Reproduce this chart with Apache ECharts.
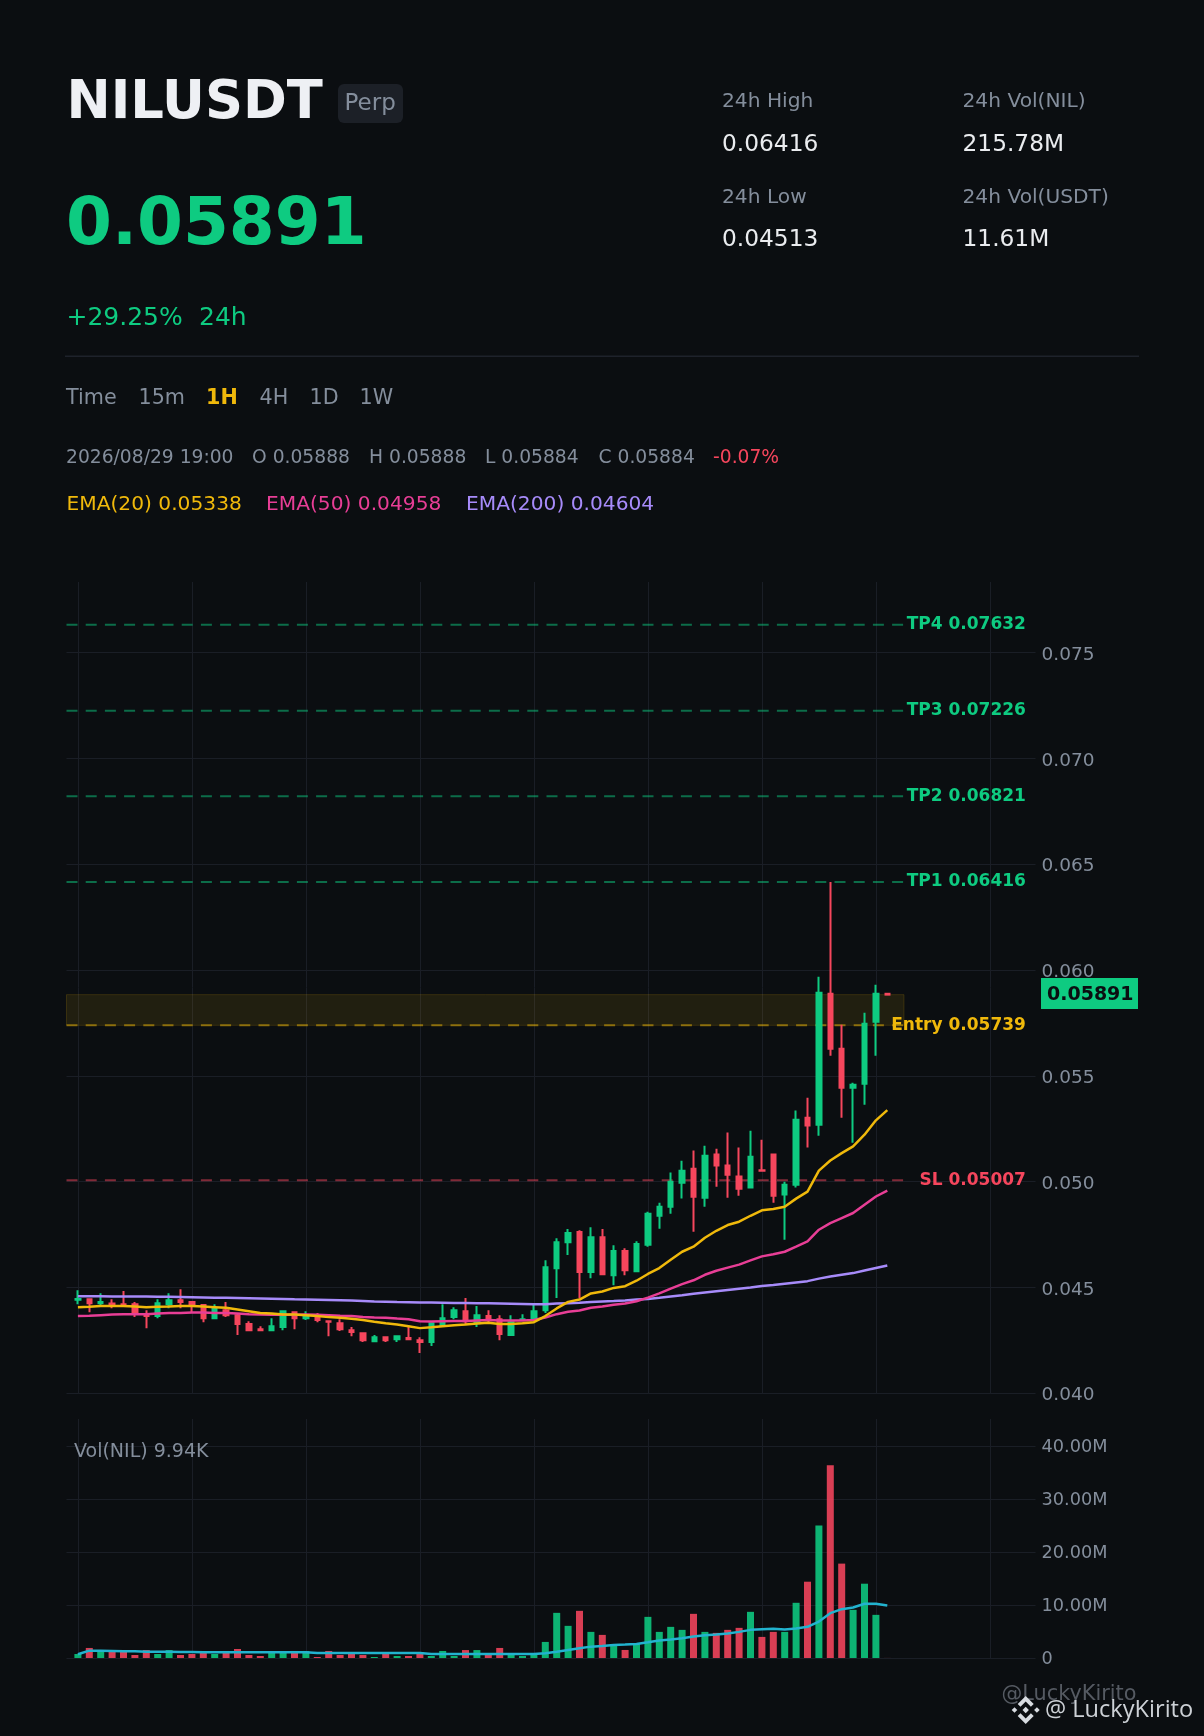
<!DOCTYPE html>
<html><head><meta charset="utf-8">
<style>html,body{margin:0;padding:0;background:#0b0e11}#c{width:1204px;height:1736px}</style>
<script src="https://cdn.jsdelivr.net/npm/echarts@6/dist/echarts.min.js"></script>
</head><body><div id="c"></div>
<script>
const opens=[.04442,.04445,.04426,.04424,.04421,.04421,.04374,.04365,.04421,.0444,.04431,.04417,.04355,.04393,.04369,.04327,.04303,.04298,.04313,.04383,.04355,.04369,.04341,.04331,.04298,.04284,.04246,.04265,.04256,.04261,.04251,.04242,.04322,.0436,.04388,.04331,.04365,.0435,.04275,.04346,.04349,.04393,.04591,.04714,.04762,.04573,.04738,.04558,.04672,.04577,.04702,.04839,.04882,.04995,.05061,.04924,.05128,.05076,.05024,.04972,.05054,.05128,.04939,.04986,.05302,.05269,.05888,.05628,.05444,.05463,.05756,.05888];
const highs=[.04487,.04445,.04473,.04445,.04483,.04431,.04393,.04445,.04473,.04492,.04431,.04417,.04421,.04431,.04379,.04341,.04317,.04355,.04388,.04383,.04388,.04379,.04341,.0435,.04313,.04289,.04275,.04265,.0427,.04313,.04265,.04331,.04421,.04407,.0445,.04412,.04393,.04369,.04369,.04374,.04417,.04629,.04733,.04776,.04771,.04785,.04776,.047,.04686,.04719,.04858,.04901,.05043,.05099,.05147,.0517,.05156,.05232,.05161,.05241,.05198,.05132,.05,.05336,.05397,.05969,.06416,.05742,.05468,.05798,.05931,.05888];
const lows=[.04421,.04383,.04417,.04402,.04412,.0436,.04308,.04355,.04402,.04402,.04383,.04336,.04355,.0436,.04275,.04294,.04294,.04298,.04298,.04303,.04346,.04336,.0427,.04294,.0427,.04242,.04246,.04242,.04242,.04251,.0419,.04223,.04317,.0435,.04326,.04313,.04336,.04251,.04275,.04346,.04346,.04379,.0445,.04653,.0445,.04544,.04558,.04511,.04558,.04577,.04693,.04778,.04849,.0492,.04764,.04882,.04976,.04924,.04934,.04972,.05052,.04901,.04726,.04972,.05161,.05217,.05595,.05302,.05184,.05364,.05595,.05884];
const closes=[.04446,.04426,.04431,.04421,.04417,.04379,.04365,.04426,.0444,.04431,.04412,.04355,.04398,.04369,.04327,.04298,.04298,.04317,.04388,.04355,.04369,.04346,.04338,.04303,.0429,.04251,.04265,.04251,.0427,.04256,.04242,.04331,.04355,.04393,.04341,.04369,.04355,.0428,.04336,.0435,.04388,.04596,.04714,.04757,.04573,.04738,.04563,.04672,.04582,.04705,.04849,.04882,.05,.05052,.04929,.05123,.05076,.05033,.04967,.05118,.05052,.04934,.04986,.05293,.05265,.05893,.05628,.05444,.05458,.05746,.05888,.05884];
const ema20=[.04407,.04409,.04412,.04413,.04413,.0441,.04407,.04409,.0441,.04412,.04412,.0441,.04407,.04404,.04396,.04388,.0438,.04377,.04372,.04372,.04369,.04365,.0436,.04357,.04352,.04346,.04338,.04331,.04325,.04317,.04308,.04312,.04317,.04322,.04325,.0433,.04333,.04327,.04328,.04331,.04336,.04365,.04401,.04432,.04443,.04472,.04481,.04498,.04506,.04532,.04564,.04592,.04631,.04669,.04693,.04735,.04768,.04795,.04811,.04839,.04865,.04871,.04882,.0492,.04953,.05052,.051,.05135,.05167,.05222,.0529,.05338];
const ema50=[.04365,.04366,.04369,.04372,.04374,.04374,.04374,.04377,.04379,.0438,.04382,.04382,.0438,.04379,.04377,.04374,.04372,.04371,.04371,.04371,.04372,.04371,.04369,.04366,.04365,.04361,.04358,.04357,.04353,.0435,.04341,.04339,.04341,.04342,.04342,.04344,.04346,.04344,.04344,.04344,.04346,.04358,.04374,.04385,.04391,.04404,.0441,.04418,.04424,.04435,.04452,.04472,.04495,.04516,.04534,.0456,.04579,.04594,.04608,.04628,.04647,.04657,.04669,.04693,.04718,.04773,.04804,.04828,.04852,.04891,.0493,.04958];
const ema200=[.04459,.04459,.04459,.04458,.04458,.04457,.04457,.04456,.04456,.04455,.04454,.04453,.04452,.04451,.0445,.04449,.04448,.04447,.04446,.04444,.04443,.04442,.04441,.0444,.04438,.04436,.04434,.04433,.04431,.0443,.04429,.04429,.04428,.04427,.04427,.04426,.04425,.04424,.04423,.04422,.04421,.04421,.04424,.04426,.04428,.04431,.04434,.04436,.04439,.04443,.04446,.04451,.04457,.04463,.0447,.04476,.04482,.04488,.04494,.045,.04507,.04512,.04518,.04524,.0453,.04542,.04552,.0456,.04568,.0458,.04592,.04604];
const volumes=[.76,1.9,1.14,1.14,1.14,.57,1.5,.76,1.5,.57,.76,.95,.76,1.33,1.7,.57,.38,.95,.95,1.33,1.33,.19,1.33,.57,.95,.57,.19,.95,.38,.38,1.14,.38,1.33,.38,1.5,1.5,.76,1.9,.57,.38,.76,3.04,8.54,6.08,8.92,4.94,4.37,2.28,1.52,2.66,7.78,4.94,5.89,5.32,8.35,4.94,4.75,5.32,5.7,8.73,3.99,4.94,4.94,10.44,14.43,25.06,36.46,17.85,9.11,14.05,8.16,.00994];
const volMa=[.7,1.39,1.39,1.33,1.27,1.27,1.2,1.2,1.2,1.14,1.14,1.08,1.08,1.08,1.08,1.08,1.08,1.08,1.08,1.08,1.08,.95,.95,.95,.95,.95,.95,.95,.95,.95,.95,.76,.76,.76,.76,.76,.76,.76,.76,.76,.76,.89,1.2,1.52,1.84,2.15,2.28,2.47,2.53,2.66,2.97,3.29,3.48,3.73,4.05,4.3,4.43,4.62,4.94,5.32,5.44,5.51,5.38,5.57,5.89,6.9,8.48,9.24,9.56,10.25,10.25,9.94];
const levelNames=['TP4 0.07632','TP3 0.07226','TP2 0.06821','TP1 0.06416','Entry 0.05739','SL 0.05007'];
const levelValues=[.07632,.07226,.06821,.06416,.05739,.05007];
const levelColors=['#0ecb81','#0ecb81','#0ecb81','#0ecb81','#f0b90b','#f6465d'];
const bandLow=.05739, bandHigh=.05884;

const UP='#0ecb81',DOWN='#f6465d',BG='#0b0e11',GRAY='#848e9c',GRID='#1a1e26';
const FF='"DejaVu Sans"';
const cats=['']; for(let i=0;i<85;i++)cats.push(String(i));
const lineEnd=72.46,labelX=83.2;

function txt(t,x,base,size,color,bold,extra){
  return {type:'text',x:x,y:base-0.27*size,silent:true,z:20,style:Object.assign({text:t,fill:color,verticalAlign:'middle',
    font:(bold?'bold ':'')+size+'px '+FF},extra||{})};
}
function poly(cx,cy,pts,fill){return {type:'polygon',silent:true,z:20,x:cx,y:cy,shape:{points:pts},style:{fill:fill}};}
const LOGO='#d8dce1',lx=1025.7,ly=1710;
const graphics=[
 txt('NILUSDT',66.5,119,52.8,'#eef0f4',true),
 {type:'rect',silent:true,z:19,shape:{x:338,y:84,width:65,height:39,r:6},style:{fill:'#1c2027'}},
 txt('Perp',344.5,110.5,23,GRAY),
 txt('0.05891',66,245,66,UP,true),
 txt('+29.25%',66.5,325,25,UP),
 txt('24h',199,325,25,UP),
 {type:'rect',silent:true,z:19,shape:{x:65,y:355.5,width:1074,height:1.5},style:{fill:'#1e222b'}},
 txt('24h High',722,107,20.2,GRAY), txt('0.06416',722,151.5,23.3,'#eaecef'),
 txt('24h Vol(NIL)',962.5,107,20.2,GRAY), txt('215.78M',962.5,151.5,23.3,'#eaecef'),
 txt('24h Low',722,203,20.2,GRAY), txt('0.04513',722,246.5,23.3,'#eaecef'),
 txt('24h Vol(USDT)',962.5,203,20.2,GRAY), txt('11.61M',962.5,246.5,23.3,'#eaecef'),
 txt('Time',66,404,20.7,GRAY), txt('15m',138.5,404,20.7,GRAY), txt('1H',206,404,20.7,'#f0b90b',true),
 txt('4H',259.5,404,20.7,GRAY), txt('1D',309.5,404,20.7,GRAY), txt('1W',359.5,404,20.7,GRAY),
 txt('2026/08/29 19:00',66,463,18.7,GRAY), txt('O 0.05888',252,463,18.7,GRAY), txt('H 0.05888',369,463,18.7,GRAY),
 txt('L 0.05884',485,463,18.7,GRAY), txt('C 0.05884',598.5,463,18.7,GRAY), txt('-0.07%',713,463,18.7,DOWN),
 txt('EMA(20) 0.05338',66.5,510,20.2,'#f0b90b'), txt('EMA(50) 0.04958',266,510,20.2,'#e83e96'), txt('EMA(200) 0.04604',466,510,20.2,'#a78bfa'),
 {type:'rect',silent:true,z:19,shape:{x:1041,y:978,width:97,height:31},style:{fill:UP}},
 txt('0.05891',1047,1000.5,19,BG,true),
 txt('Vol(NIL) 9.94K',74,1457,19,GRAY),
 txt('@LuckyKirito',1001.5,1700,20.8,'#555a62'),
 {type:'text',x:1045,y:1710,silent:true,z:21,style:{text:'@ LuckyKirito',fill:'#cdd1d6',verticalAlign:'middle',font:'23.6px "Open Sans"'}},
 poly(lx,ly,[[0,-14],[8,-6],[5.2,-3.2],[0,-8.4],[-5.2,-3.2],[-8,-6]],LOGO),
 poly(lx,ly,[[0,14],[8,6],[5.2,3.2],[0,8.4],[-5.2,3.2],[-8,6]],LOGO),
 poly(lx,ly,[[0,-3.2],[3.2,0],[0,3.2],[-3.2,0]],LOGO),
 poly(lx,ly,[[-14,0],[-11.2,-2.8],[-8.4,0],[-11.2,2.8]],LOGO),
 poly(lx,ly,[[14,0],[11.2,-2.8],[8.4,0],[11.2,2.8]],LOGO)
];

const lineSeries=(name,arr,color,xi,yi,w)=>({type:'line',name,xAxisIndex:xi,yAxisIndex:yi,data:arr.map((v,i)=>[i+1,v]),
  showSymbol:false,symbol:'none',silent:true,z:5,lineStyle:{color,width:w||2.5},clip:true});

const series=[
 {type:'line',name:'zone',xAxisIndex:2,yAxisIndex:0,data:[],z:1,silent:true,
  markArea:{silent:true,data:[[{coord:[-1,bandLow]},{coord:[lineEnd,bandHigh]}]],
   itemStyle:{color:'rgba(240,185,11,0.1)',borderColor:'rgba(240,185,11,0.16)',borderWidth:1}}},
 ...levelValues.map((v,i)=>({type:'line',name:levelNames[i],xAxisIndex:2,yAxisIndex:0,z:1,silent:true,symbol:'none',
   data:[[-1,v],[lineEnd,v]],lineStyle:{color:levelColors[i],opacity:.5,width:2,type:[11,8.2]}})),
 {type:'candlestick',name:'Price',xAxisIndex:0,yAxisIndex:0,z:3,barWidth:5,silent:true,
  data:[['-','-','-','-']].concat(opens.map((o,i)=>[o,closes[i],lows[i],highs[i]])),
  itemStyle:{color:UP,color0:DOWN,borderColor:UP,borderColor0:DOWN,borderWidth:2}},
 lineSeries('EMA200',ema200,'#a78bfa',0,0),
 lineSeries('EMA50',ema50,'#e83e96',0,0),
 lineSeries('EMA20',ema20,'#f0b90b',0,0),
 {type:'scatter',name:'levels',xAxisIndex:2,yAxisIndex:0,z:8,silent:true,symbolSize:1,itemStyle:{color:'transparent',opacity:1},
  data:levelValues.map((v,i)=>({value:[labelX,v],label:{show:true,position:'left',distance:0,offset:[0,0],formatter:levelNames[i],
    color:levelColors[i],fontFamily:FF,fontWeight:'bold',fontSize:17}}))},
 {type:'bar',name:'Vol',xAxisIndex:1,yAxisIndex:1,barWidth:7,z:3,silent:true,
  data:volumes.map((v,i)=>({value:[i+1,v],itemStyle:{color:closes[i]>=opens[i]?UP:DOWN,opacity:.88}}))},
 lineSeries('VolMA',volMa,'#22b3cf',1,1)
];

const xCommon={type:'category',data:cats,boundaryGap:false,axisLine:{show:false},axisTick:{show:false},axisLabel:{show:false},
 splitLine:{show:true,interval:(i)=>(i-1)%10===0&&i>=1,lineStyle:{color:GRID,width:1}}};
const option={
 animation:false,backgroundColor:BG,textStyle:{fontFamily:FF},
 grid:[{left:66.5,width:969,top:582,height:811.3},{left:66.5,width:969,top:1419,height:239}],
 xAxis:[Object.assign({gridIndex:0},xCommon),Object.assign({gridIndex:1},xCommon),
  {type:'value',gridIndex:0,min:-1,max:84,show:false,splitLine:{show:false}}],
 yAxis:[
  {type:'value',gridIndex:0,position:'right',min:.04,max:.07834,interval:.005,scale:true,
   axisLine:{show:false},axisTick:{show:false},splitLine:{show:true,showMaxLine:false,lineStyle:{color:GRID,width:1}},
   axisLabel:{color:GRAY,fontFamily:FF,margin:6,showMaxLabel:false,formatter:v=>'{a|'+v.toFixed(3)+'}',
     rich:{a:{color:GRAY,fontSize:18.5,fontFamily:FF,padding:[4.5,0,0,0]}}}},
  {type:'value',gridIndex:1,position:'right',min:0,max:45.2,interval:10,
   axisLine:{show:false},axisTick:{show:false},splitLine:{show:true,showMaxLine:false,lineStyle:{color:GRID,width:1}},
   axisLabel:{color:GRAY,fontFamily:FF,margin:6,showMaxLabel:false,formatter:v=>'{a|'+(v===0?'0':v.toFixed(2)+'M')+'}',
     rich:{a:{color:GRAY,fontSize:17.7,fontFamily:FF,padding:[2,0,0,0]}}}}
 ],
 series,
 graphic:graphics
};
const chart=echarts.init(document.getElementById('c'));
chart.setOption(option);
</script></body></html>
